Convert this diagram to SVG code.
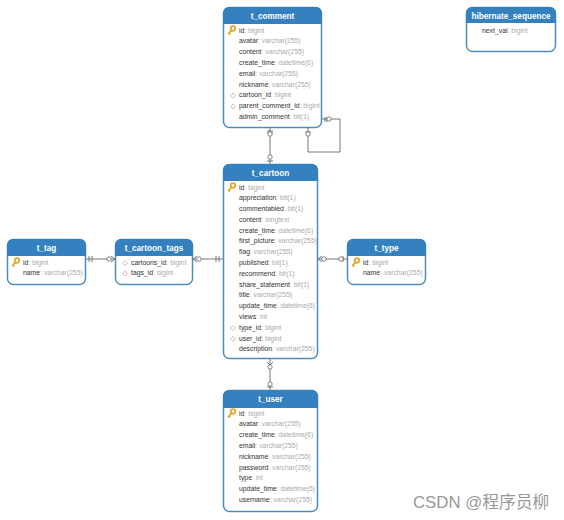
<svg xmlns="http://www.w3.org/2000/svg" width="564" height="520" viewBox="0 0 564 520">
<style>
text{font-family:"Liberation Sans",Arial,sans-serif}
.box{fill:#fff;stroke:#4b8dbd;stroke-width:1.5}
.hd{fill:#3580bf}
.title{fill:#fff;font-size:8.2px;font-weight:bold;text-anchor:middle}
.row{font-size:6.85px;fill:#333}
.row tspan{fill:#aaa}
.c{fill:none;stroke:#666;stroke-width:.9}
.o{fill:#fff;stroke:#666;stroke-width:.8}
.d{fill:#fff;stroke:#bbb;stroke-width:.9}
.wm{font-family:"Liberation Sans","Noto Sans CJK SC",sans-serif;font-size:16.800px;fill:#999}
</style>
<defs>
<g id="key"><circle cx="2" cy="-1.500" r="2.300" fill="none" stroke="#e0a92c" stroke-width="1.800"/><path d="M0.500 0.300L-3 4M-2.200 3.200L-0.800 4.500" fill="none" stroke="#e0a92c" stroke-width="1.800"/></g>
<path id="dm" class="d" d="M0-2.500L2.500 0L0 2.500L-2.500 0Z"/>
</defs>
<rect width="564" height="520" fill="#fff"/>
<g id="connectors">
<path class="c" d="M270 128V164"/>
<path class="c" d="M322 119H340V152H308V128"/>
<path class="c" d="M86 259H115"/>
<path class="c" d="M193 259H223"/>
<path class="c" d="M318 259H347"/>
<path class="c" d="M270 359V390"/>
<path class="c" d="M267 131H273M267 133H273M305 132H311M325 117V122M327 117V122"/>
<circle class="o" cx="270" cy="134" r="2.200"/><circle class="o" cx="270" cy="157" r="2.200"/><path class="c" d="M267 161H273"/>
<circle class="o" cx="308" cy="134" r="2.200"/><circle class="o" cx="329" cy="119" r="2.200"/>
<path class="c" d="M89 256V262M92 256V262M111 256L115 259L111 262"/><circle class="o" cx="109" cy="259" r="2.200"/>
<path class="c" d="M197 256L193 259L197 262M216 256V262M219 256V262"/><circle class="o" cx="199" cy="259" r="2.200"/>
<path class="c" d="M322 256L318 259L322 262M343 256V262"/><circle class="o" cx="324" cy="259" r="2.200"/><circle class="o" cx="341" cy="259" r="2.200"/>
<path class="c" d="M267 362L270 365L273 362M267 387H273"/><circle class="o" cx="270" cy="367" r="2.200"/><circle class="o" cx="270" cy="384" r="2.200"/>
</g>
<g id="t_comment">
<rect class="box" x="223.500" y="7.500" width="98" height="120" rx="6"/><path class="hd" d="M223 24V13a6 6 0 0 1 6-6h87a6 6 0 0 1 6 6V24Z"/>
<text class="title" x="272.500" y="19">t_comment</text>
<use href="#key" x="231" y="30"/>
<text class="row" x="239" y="32.500">id<tspan>: bigint</tspan></text>
<text class="row" x="239" y="43.300">avatar<tspan>: varchar(255)</tspan></text>
<text class="row" x="239" y="54">content<tspan>: varchar(255)</tspan></text>
<text class="row" x="239" y="65">create_time<tspan>: datetime(6)</tspan></text>
<text class="row" x="239" y="75.800">email<tspan>: varchar(255)</tspan></text>
<text class="row" x="239" y="86.500">nickname<tspan>: varchar(255)</tspan></text>
<use href="#dm" x="233" y="95.500"/><text class="row" x="239" y="97.300">cartoon_id<tspan>: bigint</tspan></text>
<use href="#dm" x="233" y="106.500"/><text class="row" x="239" y="108">parent_comment_id<tspan>: bigint</tspan></text>
<text class="row" x="239" y="118.800">admin_comment<tspan>: bit(1)</tspan></text>
</g>
<g id="hibernate_sequence">
<rect class="box" x="466.500" y="7.500" width="89" height="44" rx="6"/><path class="hd" d="M466 23V13a6 6 0 0 1 6-6h78a6 6 0 0 1 6 6V23Z"/>
<text class="title" x="511" y="19">hibernate_sequence</text>
<text class="row" x="482" y="32.500">next_val<tspan>: bigint</tspan></text>
</g>
<g id="t_cartoon">
<rect class="box" x="223.500" y="164.500" width="94" height="194" rx="6"/><path class="hd" d="M223 181V170a6 6 0 0 1 6-6h83a6 6 0 0 1 6 6V181Z"/>
<text class="title" x="270.500" y="175.500">t_cartoon</text>
<use href="#key" x="231" y="187"/>
<text class="row" x="239" y="189.500">id<tspan>: bigint</tspan></text>
<text class="row" x="239" y="200.300">appreciation<tspan>: bit(1)</tspan></text>
<text class="row" x="239" y="211">commentabled<tspan>: bit(1)</tspan></text>
<text class="row" x="239" y="221.800">content<tspan>: longtext</tspan></text>
<text class="row" x="239" y="232.600">create_time<tspan>: datetime(6)</tspan></text>
<text class="row" x="239" y="243.400">first_picture<tspan>: varchar(255)</tspan></text>
<text class="row" x="239" y="254.200">flag<tspan>: varchar(255)</tspan></text>
<text class="row" x="239" y="265">published<tspan>: bit(1)</tspan></text>
<text class="row" x="239" y="275.800">recommend<tspan>: bit(1)</tspan></text>
<text class="row" x="239" y="286.600">share_statement<tspan>: bit(1)</tspan></text>
<text class="row" x="239" y="297.400">title<tspan>: varchar(255)</tspan></text>
<text class="row" x="239" y="308.200">update_time<tspan>: datetime(6)</tspan></text>
<text class="row" x="239" y="319">views<tspan>: int</tspan></text>
<use href="#dm" x="233" y="328"/><text class="row" x="239" y="329.800">type_id<tspan>: bigint</tspan></text>
<use href="#dm" x="233" y="338.800"/><text class="row" x="239" y="340.600">user_id<tspan>: bigint</tspan></text>
<text class="row" x="239" y="351.400">description<tspan>: varchar(255)</tspan></text>
</g>
<g id="t_tag">
<rect class="box" x="7.500" y="239.500" width="78" height="45" rx="6"/><path class="hd" d="M7 256V245a6 6 0 0 1 6-6h67a6 6 0 0 1 6 6V256Z"/>
<text class="title" x="46.500" y="251">t_tag</text>
<use href="#key" x="15" y="262"/>
<text class="row" x="23" y="264.500">id<tspan>: bigint</tspan></text>
<text class="row" x="23" y="275.300">name<tspan>: varchar(255)</tspan></text>
</g>
<g id="t_cartoon_tags">
<rect class="box" x="115.500" y="239.500" width="77" height="45" rx="6"/><path class="hd" d="M115 256V245a6 6 0 0 1 6-6h66a6 6 0 0 1 6 6V256Z"/>
<text class="title" x="154" y="251">t_cartoon_tags</text>
<use href="#dm" x="125" y="263"/><text class="row" x="131" y="264.500">cartoons_id<tspan>: bigint</tspan></text>
<use href="#dm" x="125" y="273.500"/><text class="row" x="131" y="275.300">tags_id<tspan>: bigint</tspan></text>
</g>
<g id="t_type">
<rect class="box" x="347.500" y="239.500" width="78" height="45" rx="6"/><path class="hd" d="M347 256V245a6 6 0 0 1 6-6h67a6 6 0 0 1 6 6V256Z"/>
<text class="title" x="386.500" y="251">t_type</text>
<use href="#key" x="355" y="262"/>
<text class="row" x="363" y="264.500">id<tspan>: bigint</tspan></text>
<text class="row" x="363" y="275.300">name<tspan>: varchar(255)</tspan></text>
</g>
<g id="t_user">
<rect class="box" x="223.500" y="390.500" width="94" height="121" rx="6"/><path class="hd" d="M223 408V396a6 6 0 0 1 6-6h83a6 6 0 0 1 6 6V408Z"/>
<text class="title" x="270.500" y="402">t_user</text>
<use href="#key" x="231" y="413"/>
<text class="row" x="239" y="415.500">id<tspan>: bigint</tspan></text>
<text class="row" x="239" y="426.300">avatar<tspan>: varchar(255)</tspan></text>
<text class="row" x="239" y="437.100">create_time<tspan>: datetime(6)</tspan></text>
<text class="row" x="239" y="447.900">email<tspan>: varchar(255)</tspan></text>
<text class="row" x="239" y="458.700">nickname<tspan>: varchar(255)</tspan></text>
<text class="row" x="239" y="469.500">password<tspan>: varchar(255)</tspan></text>
<text class="row" x="239" y="480.300">type<tspan>: int</tspan></text>
<text class="row" x="239" y="491.100">update_time<tspan>: datetime(6)</tspan></text>
<text class="row" x="239" y="501.900">username<tspan>: varchar(255)</tspan></text>
</g>
<text class="wm" x="413" y="508">CSDN @程序员柳</text>
</svg>
